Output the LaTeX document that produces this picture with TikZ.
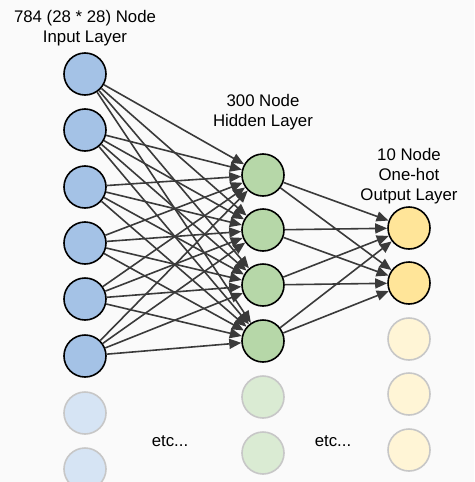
\documentclass[tikz,border=0pt]{standalone}
\usepackage{fontspec}
\setmainfont{Liberation Sans}
\usetikzlibrary{arrows.meta}
\definecolor{bg}{HTML}{FAFAFA}
\definecolor{inblue}{HTML}{A4C2E6}
\definecolor{hidgreen}{HTML}{B6D7A8}
\definecolor{outyel}{HTML}{FFE599}
\definecolor{edgec}{HTML}{3A3A3A}
\tikzset{
  neuron/.style={circle, draw=black, line width=1.6pt, minimum size=42pt, inner sep=0pt},
  ghost/.style={circle, draw=black!22, line width=1.6pt, minimum size=42pt, inner sep=0pt},
  lbl/.style={align=center, font=\fontsize{16.8}{20}\selectfont, inner sep=0pt},
  conn/.style={draw=edgec, line width=1.6pt, -{Triangle[length=12pt,width=10pt]}},
}
\begin{document}
\begin{tikzpicture}[x=1pt,y=-1pt]
\fill[bg] (0,0) rectangle (474,482);
\useasboundingbox (0,0) rectangle (474,482);
% input layer
\foreach \i/\y in {1/74,2/130,3/187,4/243,5/299,6/356}{
  \node[neuron, fill=inblue] (i\i) at (85,\y) {};
}
\node[ghost, fill=inblue!45] (i7) at (85,413) {};
\node[ghost, fill=inblue!45] (i8) at (85,469) {};
% hidden layer
\foreach \j/\y in {1/175,2/230,3/285,4/341}{
  \node[neuron, fill=hidgreen] (h\j) at (263,\y) {};
}
\node[ghost, fill=hidgreen!50] (h5) at (263,397) {};
\node[ghost, fill=hidgreen!50] (h6) at (263,453) {};
% output layer
\node[neuron, fill=outyel] (o1) at (409,228) {};
\node[neuron, fill=outyel] (o2) at (409,283) {};
\node[ghost, fill=outyel!40] (o3) at (409,339) {};
\node[ghost, fill=outyel!40] (o4) at (409,394) {};
\node[ghost, fill=outyel!40] (o5) at (409,450) {};
% connections
\foreach \i in {1,...,6}{
  \foreach \j in {1,...,4}{
    \draw[conn] (i\i) -- (h\j);
  }
}
\foreach \j in {1,...,4}{
  \foreach \k in {1,2}{
    \draw[conn] (h\j) -- (o\k);
  }
}
% labels
\node[lbl] (lin) at (85,28) {784 (28 * 28) Node\\Input Layer};
\node[lbl] (lhid) at (263,112) {300 Node\\Hidden Layer};
\node[lbl] (lout) at (409,176) {10 Node\\One-hot\\Output Layer};
\node[lbl] (etc1) at (170,441) {etc...};
\node[lbl] (etc2) at (333,441) {etc...};
\end{tikzpicture}
\end{document}
